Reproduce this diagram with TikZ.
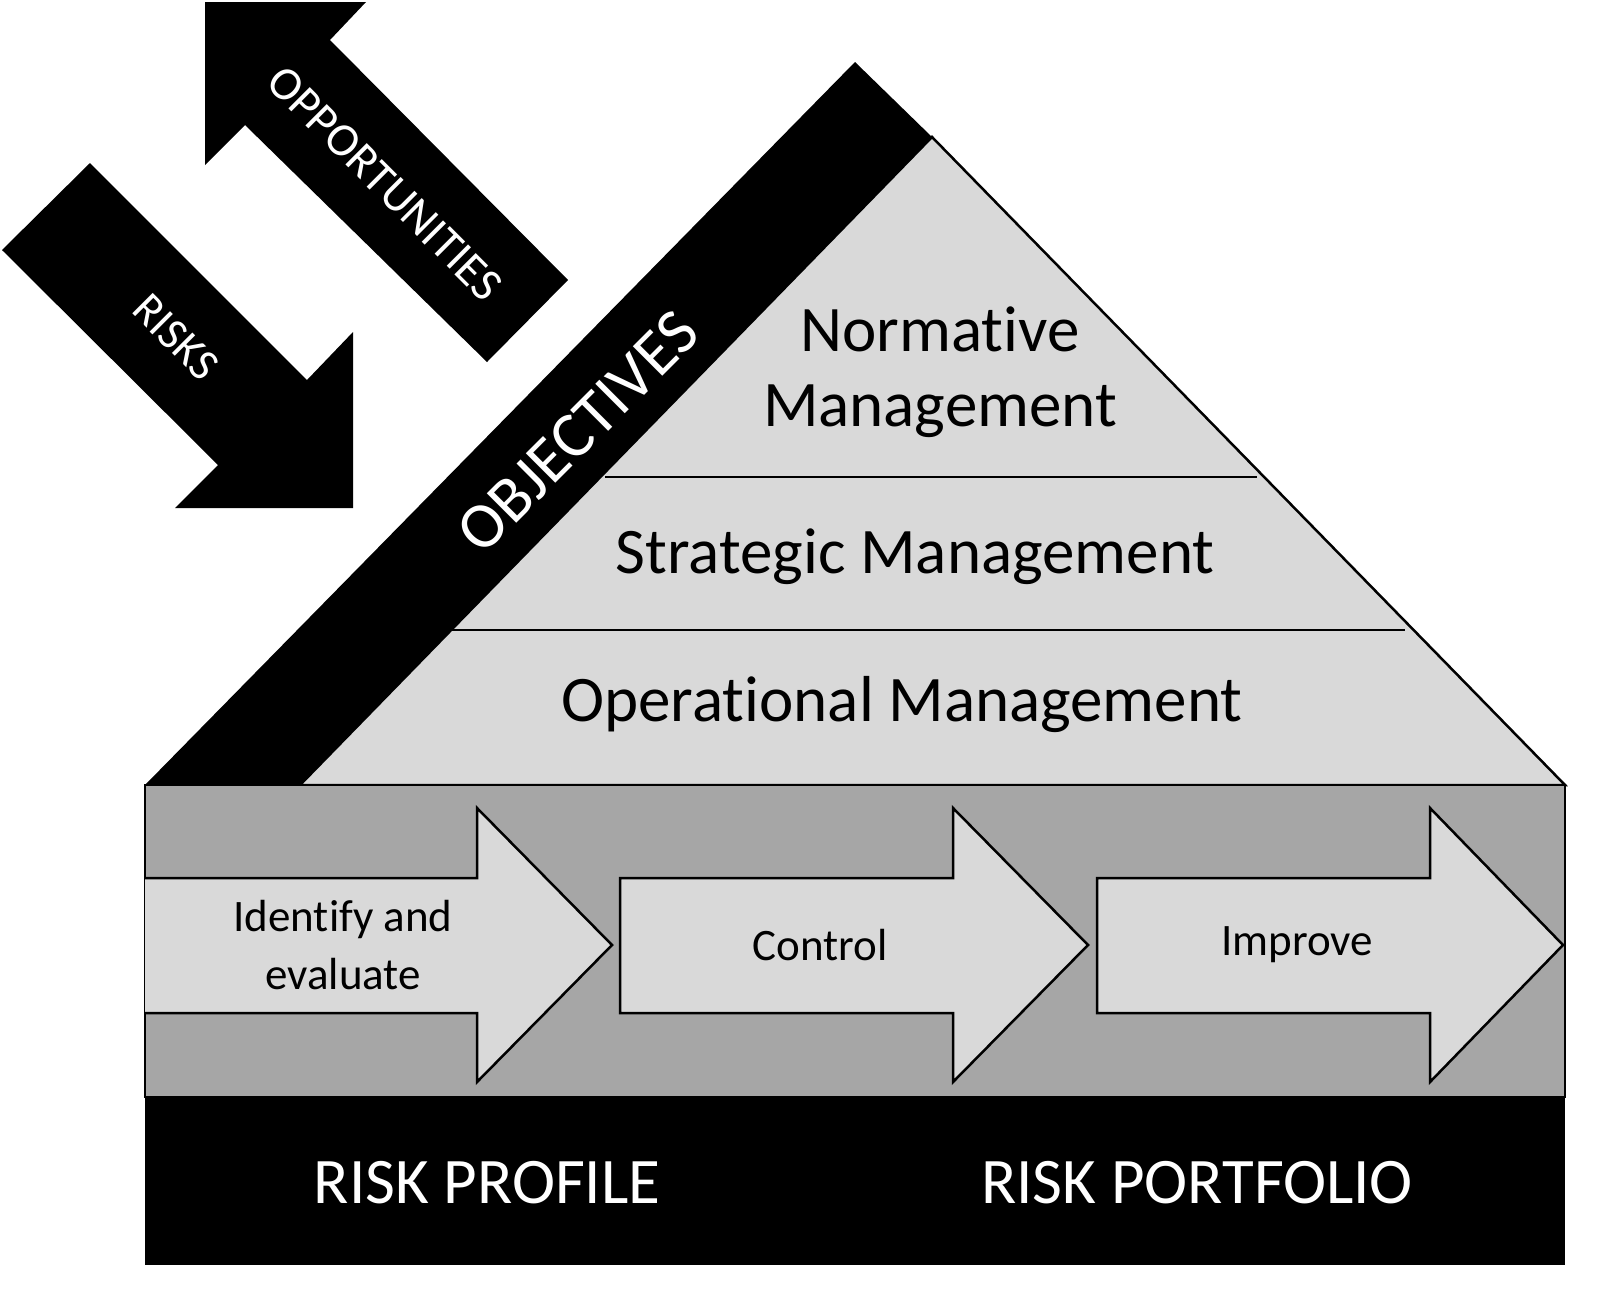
\documentclass[tikz,border=0pt]{standalone}
\usepackage{fontspec}
\setmainfont{Carlito}[Ligatures={NoCommon,NoRare,NoContextual}]
\begin{document}
\begin{tikzpicture}[x=1pt,y=-1pt,
  procarrow/.style={fill=lightg,draw=black,line width=2.5pt,line join=miter},
  big/.style={font=\fontsize{65}{75}\selectfont},
  mid/.style={font=\fontsize{45}{58}\selectfont,align=center},
  wtxt/.style={text=white}]
\definecolor{lightg}{HTML}{D9D9D9}
\definecolor{midg}{HTML}{A6A6A6}
\useasboundingbox (0,0) rectangle (1600,1291);
% roof band
\fill[black] (145,785) -- (855,62) -- (932,137) -- (300,787) -- cycle;
% triangle
\draw[fill=lightg,line width=2.5pt] (300,785) -- (932,137) -- (1565,785) -- cycle;
\draw[line width=2pt] (605,477) coordinate (l1a) -- (1257,477) coordinate (l1b);
\draw[line width=2pt] (447,630) coordinate (l2a) -- (1405,630) coordinate (l2b);
\node[big,align=center] (norm) at (940,372) {Normative\\Management};
\node[big] (strat) at (915,557) {Strategic Management};
\node[big] (oper) at (902,705) {Operational Management};
\node[big,wtxt,rotate=45] (obj) at (578,432) {OBJECTIVES};
% gray band and base
\draw[fill=midg,line width=2.5pt] (145,785) rectangle (1565,1097);
\fill[black] (145,1097) rectangle (1565,1265);
\node[big,wtxt] (prof) at (487,1183) {RISK PROFILE};
\node[big,wtxt] (port) at (1197,1183) {RISK PORTFOLIO};
% process arrows
\draw[procarrow] (145,878) -- (477,878) -- (477,808) -- (612,945) -- (477,1082) -- (477,1013) -- (145,1013);
\draw[procarrow] (620,878) -- (953,878) -- (953,808) -- (1088,945) -- (953,1082) -- (953,1013) -- (620,1013) -- cycle;
\draw[procarrow] (1097,878) -- (1430,878) -- (1430,808) -- (1563,945) -- (1430,1082) -- (1430,1013) -- (1097,1013) -- cycle;
\node[mid] (ident) at (343,945) {Identify and\\evaluate};
\node[mid] (ctrl) at (820,945) {Control};
\node[mid] (impr) at (1297,945) {Improve};
% opportunities arrow
\fill[black] (205,2) -- (366,2) -- (330,40) -- (568,280) -- (487,362) -- (245,125) -- (205,165) -- cycle;
\node[font=\fontsize{47}{52}\selectfont,wtxt,rotate=-45] (opp) at (385,183) {OPPORTUNITIES};
% risks arrow
\fill[black] (90,163) -- (307,380) -- (353,332) -- (353,508) -- (175,508) -- (218,465) -- (2,250) -- cycle;
\node[font=\fontsize{45}{50}\selectfont,wtxt,rotate=-45] (risks) at (176,337) {RISKS};
\end{tikzpicture}
\end{document}
